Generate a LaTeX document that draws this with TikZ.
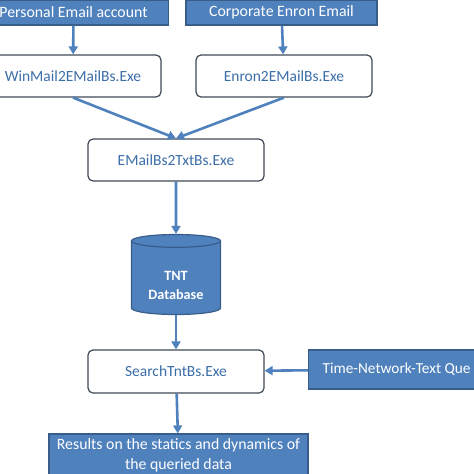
\documentclass[tikz,border=0pt]{standalone}
\usepackage{fontspec}
\setmainfont{Carlito}
\usetikzlibrary{shapes.geometric,arrows.meta}
\definecolor{boxblue}{HTML}{4F81BD}
\definecolor{boxedge}{HTML}{385D8A}
\definecolor{exeedge}{HTML}{404A56}
\definecolor{exetext}{HTML}{3C6EA8}
\begin{document}
\begin{tikzpicture}[x=1pt,y=-1pt,
    srcbox/.style={draw=boxedge, fill=boxblue, line width=1.2pt, text=white, inner sep=0pt,
        font=\fontsize{15.8}{18}\selectfont},
    exebox/.style={draw=exeedge, fill=white, rounded corners=5pt, line width=1.2pt, text=exetext,
        minimum width=176pt, minimum height=42pt, inner sep=0pt, font=\fontsize{15.5}{18}\selectfont},
    flow/.style={draw=boxblue, line width=2.6pt, -{Triangle[length=8pt,width=9pt]}}]
    \useasboundingbox (0,0) rectangle (474,474);
    \clip (0,0) rectangle (474,474);

    % Sources
    \node[srcbox, minimum width=190pt, minimum height=25pt] (personal) at (73.5,12.5) {Personal Email account};
    \node[srcbox, minimum width=191pt, minimum height=25pt] (corporate) at (281.5,12.5) {Corporate Enron Email};

    % Programs
    \node[exebox] (winmail) at (73,76) {WinMail2EMailBs.Exe};
    \node[exebox] (enron) at (284,76) {Enron2EMailBs.Exe};
    \node[exebox] (emailbs) at (176,160) {EMailBs2TxtBs.Exe};

    % Database
    \node[srcbox, cylinder, shape border rotate=90, aspect=0.5, minimum width=89pt, minimum height=80pt]
        (tnt) at (176,278) {\phantom{TNT}};
    \node[text=white, align=center, inner sep=0pt, font=\bfseries\fontsize{14.2}{19}\selectfont]
        (tntlabel) at (176,285) {TNT\\Database};

    \node[exebox, minimum height=43pt] (search) at (176,371.5) {SearchTntBs.Exe};

    % Query and results
    \node[srcbox, anchor=west, minimum height=39pt, inner xsep=14pt, font=\fontsize{15.3}{18}\selectfont]
        (query) at (308,369.5) {Time-Network-Text Que};
    \node[srcbox, minimum width=259pt, minimum height=42pt, align=center,
        font=\fontsize{15.8}{20}\selectfont] (results) at (178.5,455)
        {Results on the statics and dynamics of\\the queried data};

    % Arrows
    \draw[flow] (personal) -- (winmail);
    \draw[flow] (corporate) -- (enron);
    \draw[flow] (winmail.south) -- (emailbs.north);
    \draw[flow] (enron.south) -- (emailbs.north);
    \draw[flow] (emailbs) -- (tnt);
    \draw[flow] (tnt) -- (search);
    \draw[flow] (query) -- (search);
    \draw[flow] (search) -- (results);
\end{tikzpicture}
\end{document}
